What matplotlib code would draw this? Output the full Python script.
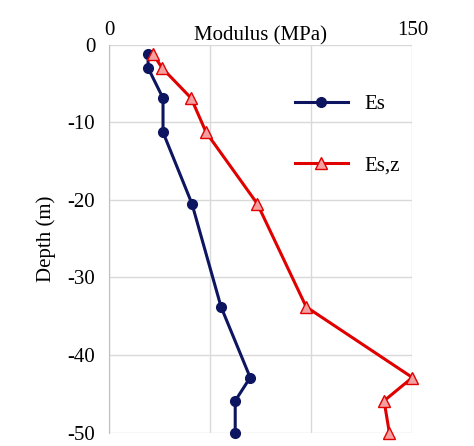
import matplotlib.pyplot as plt

plt.rcParams['font.family'] = 'Liberation Serif'
plt.rcParams['axes.unicode_minus'] = False

depth = [-1.2, -3, -6.9, -11.3, -20.5, -33.8, -42.9, -45.9, -50]
es = [19.3, 19.3, 26.7, 26.7, 41, 55.4, 69.8, 62.4, 62.4]
esz = [21.8, 26.2, 40.6, 48, 73.3, 97.5, 150, 136, 138.6]

fig, ax = plt.subplots(figsize=(4.74, 4.46), dpi=100)
fig.subplots_adjust(left=0.23, right=0.87, top=0.9, bottom=0.03)

ax.plot(es, depth, "o-", color="#0d1560", lw=2.2, ms=7, label="Es", clip_on=False)
ax.plot(esz, depth, "^-", color="#e00000", lw=2.2, ms=8, mfc="#f4a0a0", label="Es,z", clip_on=False)

ax.set_xlim(0, 150)
ax.set_ylim(-50, 0)
ax.set_xticks([0, 50, 100, 150])
ax.set_xticklabels(["0", "", "", "150"])
ax.set_yticks(range(-50, 1, 10))
ax.xaxis.tick_top()
ax.xaxis.set_label_position("top")
ax.tick_params(length=0, labelsize=15)
ax.tick_params(axis="y", pad=10)
ax.set_xlabel("Modulus (MPa)", fontsize=15, labelpad=-14)
ax.set_ylabel("Depth (m)", fontsize=15, labelpad=8)
ax.grid(color="#d9d9d9", lw=1)
for s in ["right", "bottom", "top"]:
    ax.spines[s].set_visible(False)
ax.spines["left"].set_color("#bfbfbf")

ax.legend(loc="upper right", bbox_to_anchor=(1.02, 0.92), frameon=False,
          fontsize=15, labelspacing=2.0, handlelength=2.5)

plt.savefig("out.png", dpi=100)
